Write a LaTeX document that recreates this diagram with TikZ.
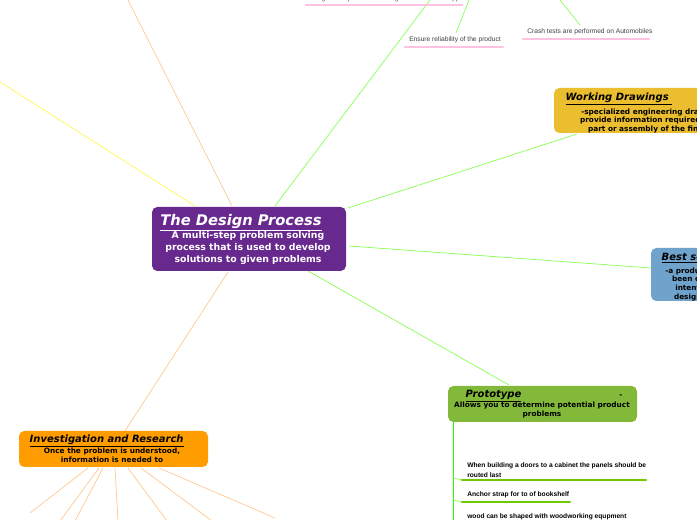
\documentclass[tikz,border=0pt]{standalone}
\usepackage{fontspec}
\setmainfont{DejaVu Sans}
\newfontfamily\leaf{Liberation Sans}
\begin{document}
\begin{tikzpicture}[x=0.75pt,y=-0.75pt,
  box/.style={rounded corners=4pt,inner sep=0pt},
  ttl/.style={font=\bfseries\itshape},
  ln/.style={line width=0.5pt},
  og/.style={ln,draw=orange!45},
  gr/.style={ln,draw=green!60!lime!70},
  leaftxt/.style={font=\leaf\fontsize{5}{6}\selectfont,anchor=west,inner sep=0pt,text=black!75},
  pink/.style={line width=2pt,draw=pink!80!magenta!60,line cap=round},
  gbar/.style={line width=2pt,draw=green!40!olive!70!lime,line cap=round}]
\useasboundingbox (0,0) rectangle (697,520);
\clip (0,0) rectangle (697,520);
\definecolor{purp}{RGB}{103,41,141}
\definecolor{wdc}{RGB}{235,190,47}
\definecolor{bsc}{RGB}{111,163,204}
\definecolor{ptc}{RGB}{131,185,59}
\definecolor{inc}{RGB}{255,157,0}
% connectors from centre
\coordinate (tl) at (128,0);
\coordinate (yl) at (0,82);
\coordinate (tg) at (430,0);
\draw[og] (232,206) -- (tl);
\draw[ln,draw=yellow!70] (195,206) -- (yl);
\draw[gr] (275,206) -- (tg);
\draw[gr] (348,208) -- (577,134);
\draw[gr] (349,246) -- (651,268);
\draw[gr] (308,271) -- (509,385);
\draw[og] (228,272) -- (125,431);
% central
\fill[purp,rounded corners=4pt] (152,207) rectangle (346,271);
\node[text=white,font=\bfseries\itshape\fontsize{11}{13}\selectfont] (cen) at (241,223) {\underline{The Design Process}};
\node[text=white,font=\bfseries\fontsize{7}{8.7}\selectfont,align=center] (cenb) at (248,248) {A multi-step problem solving\\process that is used to develop\\solutions to given problems};
% working drawings
\fill[wdc,rounded corners=4pt] (554,88) rectangle (760,133);
\node[anchor=west,font=\bfseries\itshape\fontsize{7.5}{9}\selectfont] (wd) at (561,99) {\underline{Working Drawings\ }};
\node[font=\bfseries\fontsize{5.5}{6.5}\selectfont,align=center,anchor=north] (wdb) at (662,104) {-specialized engineering drawings that\\provide information required to make a\\part or assembly of the final design};
% best solution
\fill[bsc,rounded corners=4pt] (651,248) rectangle (760,301);
\node[anchor=west,font=\bfseries\itshape\fontsize{7.5}{9}\selectfont] (bs) at (657,258) {\underline{Best solution}};
\node[font=\bfseries\fontsize{5.5}{6.5}\selectfont,align=center,anchor=north west] (bsb) at (658,263) {-a product that has\\\hspace*{1.3em}been created with\\\hspace*{0.7em}intention of the\\design process};
% prototype
\fill[ptc,rounded corners=4pt] (448,386) rectangle (637,422);
\node[anchor=west,font=\bfseries\itshape\fontsize{7.5}{9}\selectfont] (pt) at (461,396) {\underline{Prototype}};
\node[font=\bfseries\fontsize{5.5}{6.5}\selectfont] (ptd) at (621,396) {-};
\node[font=\bfseries\fontsize{5.5}{6.5}\selectfont,align=center] (ptb) at (542,410) {Allows you to determine potential product\\problems};
% investigation
\fill[inc,rounded corners=4pt] (19,431) rectangle (208,467);
\node[anchor=west,font=\bfseries\itshape\fontsize{7.5}{9}\selectfont] (inv) at (25,441) {\underline{Investigation and Research}};
\node[font=\bfseries\fontsize{5.5}{6.5}\selectfont,align=center] (invb) at (112,455) {Once the problem is understood,\\information is needed to};
\foreach \a/\b in {88/{30,513},99/{60,521},103/{75,521},115/{118,521},128/{167,521},141/{212,521},159/{275,518}}
  \draw[og] (\a,468) -- (\b);
% top leaves
\node[leaftxt] (w) at (310,-1) {Weights are placed on a bridge to see what it supports};
\draw[pink] (306,5) -- (462,5);
\node[leaftxt] (er) at (409,40) {Ensure reliability of the product};
\draw[pink] (405,47) -- (503,47);
\draw[gr] (469,0) -- (456,33);
\node[leaftxt] (ct) at (527,32) {Crash tests are performed on Automobiles};
\draw[pink] (523,39) -- (649,39);
\draw[gr] (560,0) -- (580,25);
% prototype children
\draw[ln,draw=green!80!lime] (453,422) -- (453,521);
\node[leaftxt,text=black,font=\leaf\bfseries\fontsize{5}{7}\selectfont,align=left] (c1) at (467,470) {When building a doors to a cabinet the panels should be\\routed last};
\draw[gbar] (462,480) -- (646,480);
\draw[gr] (453,478) -- (462,480);
\node[leaftxt,text=black,font=\leaf\bfseries\fontsize{5}{6}\selectfont] (c2) at (467,495) {Anchor strap for to of bookshelf};
\draw[gbar] (462,502) -- (570,502);
\draw[gr] (453,500) -- (462,502);
\node[leaftxt,text=black,font=\leaf\bfseries\fontsize{5}{6}\selectfont] (c3) at (467,517) {wood can be shaped with woodworking equpment};
\end{tikzpicture}
\end{document}
